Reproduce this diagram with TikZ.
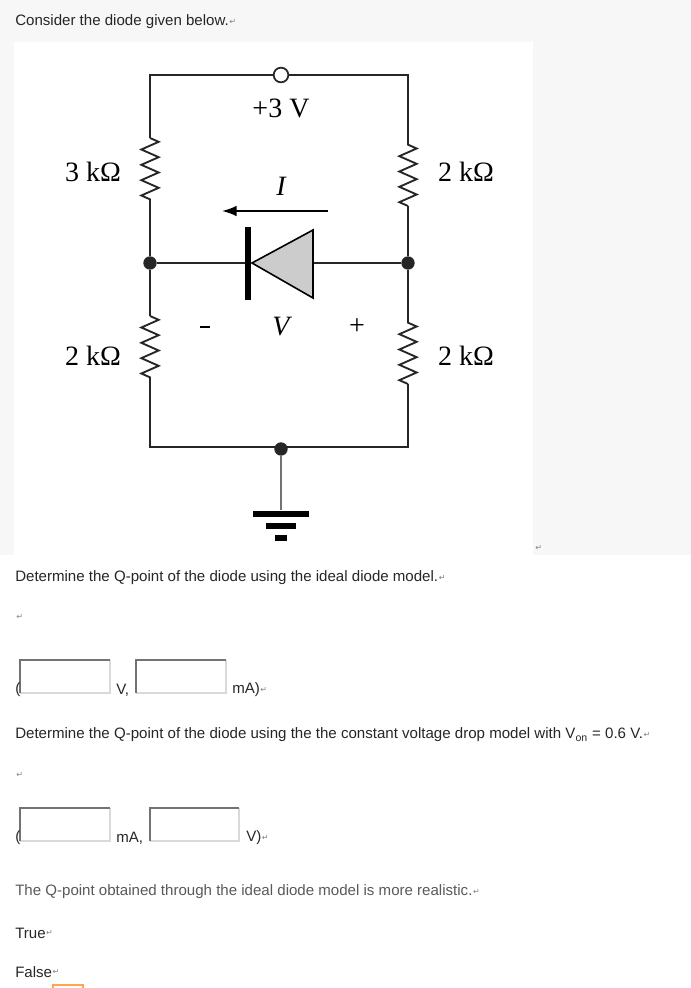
\documentclass[tikz,border=0pt]{standalone}
\usepackage{fontspec}
\setmainfont{Liberation Sans}
\newfontfamily\serifc{Liberation Serif}
\newfontfamily\dvs{DejaVu Sans}
\usetikzlibrary{decorations.pathmorphing,arrows.meta}
\begin{document}
\begin{tikzpicture}[x=0.75pt,y=-0.75pt,
 wire/.style={line width=1.4pt,draw=black!85},
 res/.style={wire,decorate,decoration={zigzag,segment length=11.5pt,amplitude=6.5pt}},
 lab/.style={font=\serifc\fontsize{21}{21}\selectfont,inner sep=0pt},
 txt/.style={font=\fontsize{11.3}{13}\selectfont,anchor=west,inner sep=0pt,text=black!85},
 ret/.style={font=\dvs\fontsize{6}{6}\selectfont,text=black!50,inner sep=0pt,anchor=west},
 dot/.style={circle,fill=black!85,inner sep=0pt,minimum size=10pt}]
\useasboundingbox (0,0) rectangle (691,988);
\fill[black!3] (0,0) rectangle (691,555);
\fill[white] (14,42) rectangle (533,555);
\node[txt] (t1) at (15,22) {Consider the diode given below.};
\node[ret] at (t1.east) {↵};
% circuit
\coordinate (tl) at (150,75); \coordinate (tr) at (408,75);
\coordinate (bl) at (150,447); \coordinate (br) at (408,447);
\node[dot] (ml) at (150,263) {}; \node[dot] (mr) at (408,263) {};
\node[circle,draw=black!85,line width=1.3pt,fill=white,inner sep=0pt,minimum size=11pt] (vt) at (281,75) {};
\node[dot] (gn) at (281,449) {};
\draw[wire] (vt) -- (tl) -- (150,138);
\draw[res] (150,138) -- (150,206);
\draw[wire] (150,206) -- (ml) -- (150,316);
\draw[res] (150,316) -- (150,384);
\draw[wire] (150,384) -- (bl) -- (br) -- (408,384);
\draw[res] (408,384) -- (408,316);
\draw[wire] (408,316) -- (mr) -- (408,206);
\draw[res] (408,206) -- (408,138);
\draw[wire] (408,138) -- (tr) -- (vt);
\coordinate (da) at (248,263); \coordinate (dc) at (313,263);
\draw[wire] (ml) -- (da); \draw[wire] (dc) -- (mr);
\draw[line width=1.2pt,fill=black!20] (313,230) -- (313,298) -- (252,263) -- cycle;
\draw[line width=4pt] (248,227) -- (248,300);
\draw[line width=1.3pt,-{Latex[length=11pt,width=8pt]}] (328,211) -- (222,211);
\draw[line width=1.3pt,draw=black!55] (gn) -- (281,510);
\draw[line width=4.5pt] (253,514) -- (309,514);
\draw[line width=4.5pt] (266,526) -- (296,526);
\draw[line width=4.5pt] (275,538) -- (287,538);
\node[lab] at (281,108) {+3 V};
\node[lab] at (93,172) {3 kΩ};
\node[lab] at (466,172) {2 kΩ};
\node[lab] at (93,356) {2 kΩ};
\node[lab] at (466,356) {2 kΩ};
\node[lab] at (281,186) {\itshape I};
\node[lab] at (281,327) {\itshape V};
\draw[line width=1.5pt] (200,327) -- (210,327);
\node[lab] at (357,327) {+};
\node[ret] at (535,548) {↵};
% questions
\node[txt] (t2) at (15,578) {Determine the Q-point of the diode using the ideal diode model.};
\node[ret] at (t2.east) {↵};
\node[ret] at (16,617) {↵};
\foreach \n/\a/\b/\y in {b1/20/110/660, b2/136/226/660, b3/20/110/808, b4/150/239/808}{
 \fill[white] (\a,\y) rectangle (\b,\y+33);
 \draw[black!15,line width=1.2pt] (\a,\y+33) -- (\b,\y+33) -- (\b,\y);
 \draw[black!55,line width=2pt] (\a,\y+33) -- (\a,\y) -- (\b,\y);
}
\node[txt] at (15,690) {(};
\node[txt] at (116,690) {V,};
\node[txt] (t3) at (232,690) {mA)};
\node[ret] at (t3.east) {↵};
\node[txt] (t4) at (15,735) {Determine the Q-point of the diode using the the constant voltage drop model with V\textsubscript{on} = 0.6 V.};
\node[ret] at (t4.east) {↵};
\node[ret] at (16,775) {↵};
\node[txt] at (15,838) {(};
\node[txt] at (116,838) {mA,};
\node[txt] (t5) at (246,838) {V)};
\node[ret] at (t5.east) {↵};
\node[txt,text=black!65] (t6) at (15,892) {The Q-point obtained through the ideal diode model is more realistic.};
\node[ret] at (t6.east) {↵};
\node[txt] (t7) at (15,933) {True};
\node[ret] at (t7.east) {↵};
\node[txt] (t8) at (15,972) {False};
\node[ret] at (t8.east) {↵};
\draw[orange!70,line width=0.8pt] (53,990) -- (53,985) -- (83,985) -- (83,990);
\end{tikzpicture}
\end{document}
